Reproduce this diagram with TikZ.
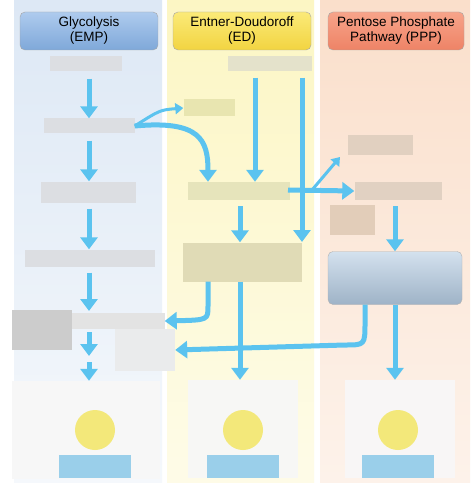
\documentclass[tikz,border=0pt]{standalone}
\usepackage{fontspec}
\setmainfont{Liberation Sans}
\usetikzlibrary{arrows.meta}

\definecolor{flow}{HTML}{5BC3EF}
\definecolor{hidebox}{HTML}{DCDEE2}
\definecolor{empcol}{HTML}{DDE8F5}
\definecolor{edcol}{HTML}{FCF6C4}
\definecolor{pppcol}{HTML}{FADFCB}
\definecolor{empTop}{HTML}{AECBEE}
\definecolor{empBot}{HTML}{7FA8D9}
\definecolor{edTop}{HTML}{FBEA78}
\definecolor{edBot}{HTML}{F2D441}
\definecolor{pppTop}{HTML}{F7A48A}
\definecolor{pppBot}{HTML}{EE8366}
\definecolor{boxTop}{HTML}{D3E1EE}
\definecolor{boxBot}{HTML}{9FB3C7}
\definecolor{sunny}{HTML}{F3E87A}
\definecolor{water}{HTML}{9ACFEA}
\definecolor{edgrey}{HTML}{E0DBB6}

\tikzset{
  header/.style={rounded corners=5pt, minimum width=138pt, minimum height=38pt,
    align=center, font=\fontsize{13.5}{15}\selectfont, draw=gray!70, thin},
  masked/.style={fill=#1, inner sep=0pt},
  masked/.default=hidebox,
  flowarrow/.style={draw=flow, line width=5pt, -{Triangle[width=17pt,length=12pt]}},
  thinflow/.style={draw=flow, line width=3pt, -{Triangle[width=11pt,length=8pt]}},
}

\begin{document}
\begin{tikzpicture}[x=1pt,y=-1pt]
    \useasboundingbox (0,0) rectangle (474,489);
    \fill[white] (0,0) rectangle (474,489);

    % column backgrounds
    \shade[top color=empcol, bottom color=empcol!30] (14,0) rectangle (162,482);
    \shade[top color=edcol, bottom color=edcol!40] (167,0) rectangle (314,482);
    \shade[top color=pppcol, bottom color=pppcol!40] (320,0) rectangle (470,482);

    % headers
    \node[header, top color=empTop, bottom color=empBot] (hEMP) at (89,31) {Glycolysis\\(EMP)};
    \node[header, top color=edTop, bottom color=edBot] (hED) at (242,31) {Entner-Doudoroff\\(ED)};
    \node[header, top color=pppTop, bottom color=pppBot, minimum width=136pt] (hPPP) at (396,31) {Pentose Phosphate\\Pathway (PPP)};

    % hidden labels
    \node[masked, minimum width=72pt, minimum height=15pt] (emp1) at (86,64) {};
    \node[masked=yellow!12!hidebox, minimum width=84pt, minimum height=15pt] (ed1) at (270,64) {};
    \node[masked, minimum width=91pt, minimum height=15pt] (emp2) at (89,126) {};
    \node[masked=yellow!25!hidebox, minimum width=51pt, minimum height=17pt] (edS) at (209,108) {};
    \node[masked=orange!15!hidebox, minimum width=65pt, minimum height=20pt] (ppp1) at (380,145) {};
    \node[masked, minimum width=95pt, minimum height=21pt] (emp3) at (88,192) {};
    \node[masked=yellow!20!hidebox, minimum width=102pt, minimum height=18pt] (ed2) at (239,191) {};
    \node[masked=orange!14!hidebox, minimum width=87pt, minimum height=18pt] (ppp2) at (398,191) {};
    \node[masked=orange!18!hidebox, minimum width=45pt, minimum height=30pt] (pppS) at (352,220) {};
    \node[masked, minimum width=130pt, minimum height=17pt] (emp4) at (90,258) {};
    \node[masked=edgrey, minimum width=119pt, minimum height=39pt] (ed3) at (242,262) {};
    \node[rounded corners=5pt, draw=gray!60, top color=boxTop, bottom color=boxBot,
      minimum width=134pt, minimum height=53pt] (pppBox) at (395,278) {};
    \node[masked=gray!40, minimum width=60pt, minimum height=40pt] (emp5) at (42,330) {};
    \node[masked=gray!22, minimum width=93pt, minimum height=16pt] (emp5t) at (118,321) {};
    \node[masked=cyan!5!gray!18, minimum width=60pt, minimum height=42pt] (emp5b) at (145,350) {};

    % bottom pictures
    \node[masked=gray!6, minimum width=148pt, minimum height=98pt] (bEMP) at (86,430) {};
    \node[masked=yellow!12!gray!8, minimum width=110pt, minimum height=98pt] (bED) at (243,429) {};
    \node[masked=red!12!gray!6, minimum width=110pt, minimum height=98pt] (bPPP) at (400,429) {};
    \foreach \p/\x in {EMP/95, ED/243, PPP/398}{
      \fill[sunny] (\x,430) circle (20);
      \fill[water] (\x-36,455) rectangle (\x+36,478);
    }

    % EMP column
    \draw[flowarrow] (emp2.north |- emp1.south) ++(0,7) -- (emp2.north);
    \draw[flowarrow] (emp2.south) ++(0,7) -- (emp2.south |- emp3.north);
    \draw[flowarrow] (emp2.south |- emp3.south) ++(0,6) -- (emp2.south |- emp4.north);
    \draw[flowarrow] (emp2.south |- emp4.south) ++(0,6) -- (89,311);
    \draw[flowarrow] (89,332) -- (89,356);
    \draw[flowarrow] (89,362) -- (bEMP.north -| emp2.south);

    % EMP to ED
    \draw[flowarrow] (emp2.east) .. controls (200,120) and (208,140) .. ([xshift=-31pt]ed2.north);
    \draw[thinflow] (emp2.east) .. controls (160,110) .. (edS.west);

    % ED column
    \draw[flowarrow] ([xshift=-15pt]ed1.south) ++(0,6) -- ([xshift=16pt]ed2.north);
    \draw[flowarrow] ([xshift=32pt]ed1.south) ++(0,6) -- (302,242);
    \draw[flowarrow] ([xshift=1pt]ed2.south) ++(0,6) -- ([xshift=1pt]ed2.south |- ed3.north);
    \draw[flowarrow] (288,190) -- (ppp2.west);
    \draw[thinflow] (312,190) -- (340,157);

    % PPP column
    \draw[flowarrow] ([xshift=-3pt]ppp2.south) ++(0,6) -- ([xshift=-3pt]ppp2.south |- pppBox.north);

    % back to lower glycolysis
    \draw[flowarrow] ([xshift=-34pt]ed3.south) -- (208,306) .. controls (208,320) .. (emp5t.east);
    \draw[flowarrow] ([xshift=-2pt]ed3.south) -- ([xshift=-2pt]ed3.south |- bED.north);
    \draw[flowarrow] ([xshift=-30pt]pppBox.south) -- (365,322) .. controls (365,345) .. (345,345) -- (emp5b.east);
    \draw[flowarrow] (pppBox.south) -- (pppBox.south |- bPPP.north);
\end{tikzpicture}
\end{document}
